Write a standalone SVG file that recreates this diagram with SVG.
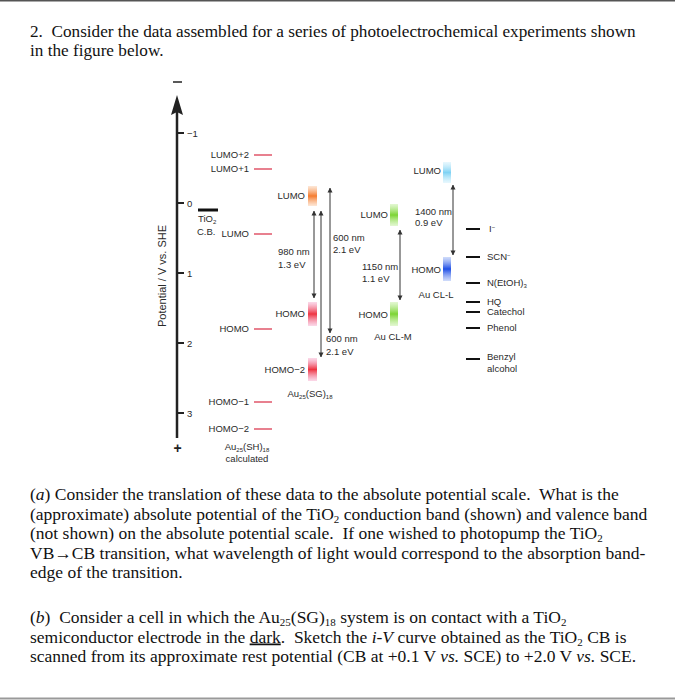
<svg xmlns="http://www.w3.org/2000/svg" width="675" height="700" viewBox="0 0 675 700">
<style>
.q{font-family:"Liberation Serif","Times New Roman",serif;font-size:17.5px;fill:#111;white-space:pre}
.t{font-family:"Liberation Serif","Times New Roman",serif;font-size:17.2px;fill:#111;white-space:pre}
.d{font-family:"Liberation Sans",Arial,sans-serif;font-size:9.5px;fill:#2a2a2a}
.ax{font-family:"Liberation Sans",Arial,sans-serif;font-size:11px;fill:#2a2a2a}
.lvl{stroke:#e0566a;stroke-width:1.5}
.rdx{stroke:#111;stroke-width:2}
.arr{stroke:#333;stroke-width:1;fill:none;marker-start:url(#ah);marker-end:url(#ah)}
.tick{stroke:#222;stroke-width:2}
</style>
<defs>
<marker id="ah" viewBox="0 0 6 6" refX="5.5" refY="3" markerWidth="5" markerHeight="6" markerUnits="userSpaceOnUse" orient="auto-start-reverse">
<path d="M0,0 L6,3 L0,6 z" fill="#333"/>
</marker>
<linearGradient id="gOr" x1="0" y1="0" x2="0" y2="1"><stop offset="0" stop-color="#f9b07a" stop-opacity="0.3"/><stop offset="0.5" stop-color="#f57b2e"/><stop offset="1" stop-color="#f9b07a" stop-opacity="0.3"/></linearGradient>
<linearGradient id="gRd" x1="0" y1="0" x2="0" y2="1"><stop offset="0" stop-color="#f5a0c8" stop-opacity="0.4"/><stop offset="0.5" stop-color="#ee3340"/><stop offset="1" stop-color="#f5a0c8" stop-opacity="0.4"/></linearGradient>
<linearGradient id="gGr" x1="0" y1="0" x2="0" y2="1"><stop offset="0" stop-color="#b8ec8e" stop-opacity="0.4"/><stop offset="0.5" stop-color="#7cd434"/><stop offset="1" stop-color="#b8ec8e" stop-opacity="0.4"/></linearGradient>
<linearGradient id="gCy" x1="0" y1="0" x2="0" y2="1"><stop offset="0" stop-color="#c4ecfb" stop-opacity="0.4"/><stop offset="0.5" stop-color="#7fd2f4"/><stop offset="1" stop-color="#c4ecfb" stop-opacity="0.4"/></linearGradient>
<linearGradient id="gBl" x1="0" y1="0" x2="0" y2="1"><stop offset="0" stop-color="#8aa8f4" stop-opacity="0.4"/><stop offset="0.5" stop-color="#1f4fe6"/><stop offset="1" stop-color="#8aa8f4" stop-opacity="0.4"/></linearGradient>
</defs>
<rect x="0" y="0" width="675" height="700" fill="#fff"/>
<line x1="0" y1="0.8" x2="675" y2="0.8" stroke="#555" stroke-width="1.6"/>
<line x1="0" y1="698.5" x2="675" y2="698.5" stroke="#999" stroke-width="2"/>

<g id="title">
<text class="t" x="30" y="36.5">2.  Consider the data assembled for a series of photoelectrochemical experiments shown</text>
<text class="t" x="30" y="55.8">in the figure below.</text>
</g>

<g id="axis">
<line x1="177" y1="110" x2="177" y2="438" stroke="#222" stroke-width="2.5"/>
<path d="M177,95 L183,115 L177,112 L171,115 z" fill="#222"/>
<line x1="173" y1="82" x2="182" y2="82" stroke="#222" stroke-width="1.5"/>
<text x="177.5" y="453" text-anchor="middle" font-family="Liberation Sans,Arial,sans-serif" font-size="14" font-weight="bold" fill="#222">+</text>
<line class="tick" x1="177" y1="133" x2="184" y2="133"/>
<line class="tick" x1="177" y1="203" x2="184" y2="203"/>
<line class="tick" x1="177" y1="273" x2="184" y2="273"/>
<line class="tick" x1="177" y1="343" x2="184" y2="343"/>
<line class="tick" x1="177" y1="413" x2="184" y2="413"/>
<text class="d" x="187" y="137">−1</text>
<text class="d" x="187" y="207">0</text>
<text class="d" x="187" y="277">1</text>
<text class="d" x="187" y="347">2</text>
<text class="d" x="187" y="417">3</text>
<text class="ax" transform="translate(166,276) rotate(-90)" text-anchor="middle">Potential / V vs. SHE</text>
</g>

<g id="tio2">
<line x1="198" y1="210" x2="218" y2="210" stroke="#111" stroke-width="3"/>
<text class="d" x="198" y="222">TiO<tspan font-size="6" dy="2">2</tspan></text>
<text class="d" x="197" y="235">C.B.</text>
</g>

<g id="au25sh18">
<line class="lvl" x1="254" y1="155" x2="272" y2="155"/>
<line class="lvl" x1="254" y1="169" x2="272" y2="169"/>
<line class="lvl" x1="254" y1="234" x2="272" y2="234"/>
<line class="lvl" x1="254" y1="329" x2="272" y2="329"/>
<line class="lvl" x1="254" y1="402" x2="272" y2="402"/>
<line class="lvl" x1="254" y1="429" x2="272" y2="429"/>
<text class="d" x="249" y="158" text-anchor="end">LUMO+2</text>
<text class="d" x="249" y="172" text-anchor="end">LUMO+1</text>
<text class="d" x="249" y="237" text-anchor="end">LUMO</text>
<text class="d" x="249" y="332" text-anchor="end">HOMO</text>
<text class="d" x="249" y="405" text-anchor="end">HOMO−1</text>
<text class="d" x="249" y="432" text-anchor="end">HOMO−2</text>
<text class="d" x="247" y="450" text-anchor="middle">Au<tspan font-size="6" dy="1.5">25</tspan><tspan dy="-1.5">(SH)</tspan><tspan font-size="6" dy="1.5">18</tspan></text>
<text class="d" x="247" y="462" text-anchor="middle">calculated</text>
</g>

<g id="au25sg18">
<rect x="308" y="186" width="9" height="20" fill="url(#gOr)"/>
<rect x="308" y="302" width="9" height="24" fill="url(#gRd)"/>
<rect x="308" y="358" width="9" height="23" fill="url(#gRd)"/>
<text class="d" x="305" y="199" text-anchor="end">LUMO</text>
<text class="d" x="305" y="317" text-anchor="end">HOMO</text>
<text class="d" x="305" y="373" text-anchor="end">HOMO−2</text>
<text class="d" x="310" y="397" text-anchor="middle">Au<tspan font-size="6" dy="1.5">25</tspan><tspan dy="-1.5">(SG)</tspan><tspan font-size="6" dy="1.5">18</tspan></text>
<text class="d" x="278" y="255">980 nm</text>
<text class="d" x="278" y="268">1.3 eV</text>
<text class="d" x="333" y="241">600 nm</text>
<text class="d" x="333" y="253">2.1 eV</text>
<text class="d" x="326" y="342">600 nm</text>
<text class="d" x="326" y="355">2.1 eV</text>
</g>

<g id="auclm">
<rect x="390" y="204" width="8" height="22" fill="url(#gGr)"/>
<rect x="390" y="302" width="8" height="24" fill="url(#gGr)"/>
<text class="d" x="388" y="218" text-anchor="end">LUMO</text>
<text class="d" x="388" y="318" text-anchor="end">HOMO</text>
<text class="d" x="393" y="340" text-anchor="middle">Au CL-M</text>
<text class="d" x="362" y="270">1150 nm</text>
<text class="d" x="362" y="282">1.1 eV</text>
</g>

<g id="aucll">
<rect x="443" y="162" width="8" height="21" fill="url(#gCy)"/>
<rect x="443" y="257" width="8" height="24" fill="url(#gBl)"/>
<text class="d" x="441" y="174" text-anchor="end">LUMO</text>
<text class="d" x="441" y="273" text-anchor="end">HOMO</text>
<text class="d" x="436" y="298" text-anchor="middle">Au CL-L</text>
<text class="d" x="415" y="215">1400 nm</text>
<text class="d" x="415" y="226">0.9 eV</text>
</g>

<g id="redox">
<line class="rdx" x1="466" y1="229" x2="480" y2="229"/>
<line class="rdx" x1="466" y1="257" x2="480" y2="257"/>
<line class="rdx" x1="466" y1="283" x2="480" y2="283"/>
<line class="rdx" x1="466" y1="302" x2="480" y2="302"/>
<line class="rdx" x1="466" y1="312" x2="480" y2="312"/>
<line class="rdx" x1="466" y1="328" x2="480" y2="328"/>
<line class="rdx" x1="466" y1="359" x2="480" y2="359"/>
<text class="d" x="489" y="232">I<tspan font-size="6" dy="-3">−</tspan></text>
<text class="d" x="487" y="260">SCN<tspan font-size="6" dy="-3">−</tspan></text>
<text class="d" x="487" y="286">N(EtOH)<tspan font-size="6" dy="2">3</tspan></text>
<text class="d" x="487" y="305">HQ</text>
<text class="d" x="487" y="315">Catechol</text>
<text class="d" x="487" y="331">Phenol</text>
<text class="d" x="487" y="360">Benzyl</text>
<text class="d" x="487" y="372">alcohol</text>
</g>

<g id="connectors">
<line class="arr" x1="314" y1="211" x2="314" y2="298"/>
<line class="arr" x1="321" y1="211" x2="321" y2="357"/>
<line class="arr" x1="330" y1="188" x2="330" y2="333"/>
<line class="arr" x1="400" y1="230" x2="400" y2="300"/>
<line class="arr" x1="453" y1="185" x2="453" y2="255"/>
</g>

<g id="question">
<text class="q" x="30" y="500">(<tspan font-style="italic">a</tspan>) Consider the translation of these data to the absolute potential scale.  What is the</text>
<text class="q" x="30" y="519.5">(approximate) absolute potential of the TiO<tspan font-size="11" dy="3">2</tspan><tspan dy="-3"> conduction band (shown) and valence band</tspan></text>
<text class="q" x="30" y="539">(not shown) on the absolute potential scale.  If one wished to photopump the TiO<tspan font-size="11" dy="3">2</tspan></text>
<text class="q" x="30" y="558.5">VB→CB transition, what wavelength of light would correspond to the absorption band-</text>
<text class="q" x="30" y="578">edge of the transition.</text>
<text class="q" x="30" y="623">(<tspan font-style="italic">b</tspan>)  Consider a cell in which the Au<tspan font-size="11" dy="3">25</tspan><tspan dy="-3">(SG)</tspan><tspan font-size="11" dy="3">18</tspan><tspan dy="-3"> system is on contact with a TiO</tspan><tspan font-size="11" dy="3">2</tspan></text>
<text class="q" x="30" y="642.5">semiconductor electrode in the <tspan text-decoration="underline">dark</tspan>.  Sketch the <tspan font-style="italic">i-V</tspan> curve obtained as the TiO<tspan font-size="11" dy="3">2</tspan><tspan dy="-3"> CB is</tspan></text>
<text class="q" x="30" y="662">scanned from its approximate rest potential (CB at +0.1 V <tspan font-style="italic">vs.</tspan> SCE) to +2.0 V <tspan font-style="italic">vs.</tspan> SCE.</text>
</g>
</svg>
